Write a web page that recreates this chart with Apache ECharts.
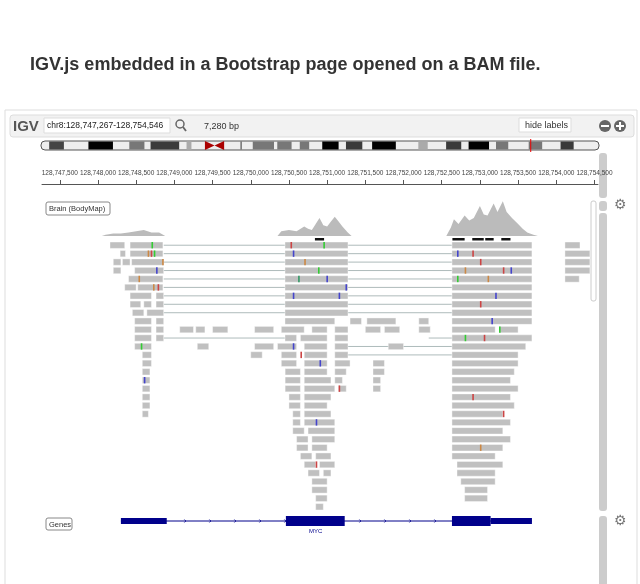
<!DOCTYPE html>
<html><head><meta charset="utf-8">
<script src="https://cdn.jsdelivr.net/npm/echarts@6/dist/echarts.min.js"></script>
<style>html,body{margin:0;background:#fff}#c{width:640px;height:584px}</style></head>
<body><div id="c"></div>
<script>
const BASE = 128747000;
const regionStart = 128747267, regionEnd = 128754546;
const rulerTicks = [128747500,128748000,128748500,128749000,128749500,128750000,128750500,128751000,128751500,128752000,128752500,128753000,128753500,128754000,128754500];
const ideoBands = [[122,158,'#444'],[218,278,'#000'],[318,355,'#777'],[370,440,'#3a3a3a'],[458,470,'#aaa'],[590,593,'#555'],[620,672,'#777'],[680,715,'#777'],[735,758,'#777'],[790,830,'#000'],[848,888,'#3a3a3a'],[912,970,'#000'],[1025,1048,'#aaa'],[1093,1130,'#3a3a3a'],[1148,1198,'#000'],[1215,1245,'#777'],[1295,1328,'#777'],[1373,1405,'#3a3a3a']];
const coverage = [[267,0],[1050,0],[1100,1],[1200,2],[1300,2],[1400,3],[1500,4],[1600,5],[1700,3],[1800,3],[1880,0],[3350,0],[3400,4],[3500,5],[3600,4],[3700,8],[3750,6],[3800,5],[3850,10],[3900,15],[3950,9],[4000,8],[4050,12],[4100,16],[4150,12],[4200,8],[4270,3],[4320,0],[5560,0],[5620,7],[5660,14],[5720,10],[5800,17],[5860,13],[5920,15],[6000,25],[6050,18],[6100,17],[6180,27],[6230,20],[6300,29],[6350,20],[6420,15],[6500,10],[6560,6],[6620,3],[6700,1],[6760,0],[7400,0]];
const reads = [
[1157,1350,0],[1420,1850,0],[3448,4273,0],[5634,6681,0],[7113,7310,0],
[1290,1360,1],[1420,1850,1],[3448,4273,1],[5634,6681,1],[7113,7440,1],
[1200,1300,2],[1320,1420,2],[1440,1860,2],[3448,4273,2],[5634,6681,2],[7113,7440,2],
[1200,1300,3],[1480,1860,3],[3448,4273,3],[5634,6681,3],[7113,7440,3],
[1400,1850,4],[3448,4273,4],[5634,6681,4],[7113,7300,4],
[1350,1500,5],[1520,1850,5],[3448,4273,5],[5634,6681,5],
[1420,1700,6],[1760,1860,6],[3448,4273,6],[5634,6681,6],
[1420,1560,7],[1600,1700,7],[1760,1860,7],[3448,4273,7],[5634,6681,7],
[1450,1600,8],[1640,1860,8],[3448,4273,8],[5634,6681,8],
[1480,1700,9],[1760,1860,9],[3448,4100,9],[4300,4450,9],[4520,4900,9],[5200,5330,9],[5634,6681,9],
[1480,1700,10],[1760,1860,10],[2070,2250,10],[2280,2400,10],[2500,2700,10],[3050,3300,10],[3400,3700,10],[3800,4000,10],[4100,4273,10],[4500,4700,10],[4750,4950,10],[5200,5350,10],[5634,6200,10],[6250,6500,10],
[1480,1700,11],[1760,1860,11],[3448,3600,11],[3650,4000,11],[4100,4273,11],[5634,6681,11],
[1480,1700,12],[2300,2450,12],[3050,3300,12],[3350,3600,12],[3700,4000,12],[4100,4273,12],[4800,5000,12],[5634,6600,12],
[1580,1700,13],[3000,3150,13],[3400,3600,13],[3700,4000,13],[4100,4273,13],[5634,6500,13],
[1580,1700,14],[3400,3600,14],[3700,4000,14],[4100,4300,14],[4600,4750,14],[5634,6500,14],
[1580,1680,15],[3450,3650,15],[3700,4000,15],[4100,4250,15],[4600,4750,15],[5634,6450,15],
[1580,1680,16],[3450,3650,16],[3700,4050,16],[4100,4200,16],[4600,4700,16],[5634,6400,16],
[1580,1680,17],[3450,3650,17],[3700,4100,17],[4150,4250,17],[4600,4700,17],[5634,6500,17],
[1580,1680,18],[3500,3650,18],[3700,4050,18],[5634,6400,18],
[1580,1680,19],[3500,3650,19],[3700,4000,19],[5634,6450,19],
[1580,1660,20],[3550,3650,20],[3700,4050,20],[5634,6300,20],
[3550,3650,21],[3700,4100,21],[5634,6400,21],
[3550,3700,22],[3750,4100,22],[5634,6300,22],
[3600,3750,23],[3800,4100,23],[5634,6400,23],
[3600,3750,24],[3800,4000,24],[5634,6300,24],
[3650,3800,25],[3850,4050,25],[5634,6200,25],
[3700,3850,26],[3900,4100,26],[5700,6300,26],
[3750,3900,27],[3950,4050,27],[5700,6200,27],
[3800,4000,28],[5750,6200,28],
[3800,4000,29],[5800,6100,29],
[3850,4000,30],[5800,6100,30],
[3850,3950,31]
];
const junctions = [[1860,3448,0],[4273,5634,0],[1860,3448,1],[4273,5634,1],[1860,3448,2],[4273,5634,2],[1860,3448,3],[4273,5634,3],[1860,3448,4],[4273,5634,4],[1860,3448,5],[4273,5634,5],[1860,3448,6],[4273,5634,6],[1860,3448,7],[4273,5634,7],[1860,3448,8],[4273,5634,8],[1860,3448,11],[4273,5634,12],[5330,5634,11],[4273,5634,13]];
const mismatches = [[1700,0,'#3c3'],[1650,1,'#c84'],[1690,1,'#c44'],[1730,1,'#3c3'],[1840,2,'#c84'],[1760,3,'#44c'],[1530,4,'#c84'],[1720,5,'#c84'],[1780,5,'#c44'],[3520,0,'#c44'],[3950,0,'#3c3'],[3550,1,'#44c'],[3700,2,'#c84'],[3880,3,'#3c3'],[3620,4,'#396'],[3990,4,'#44c'],[4240,5,'#44c'],[3550,6,'#44c'],[4150,6,'#44c'],[5700,1,'#44c'],[5900,1,'#c44'],[6000,2,'#c44'],[5800,3,'#c84'],[6300,3,'#c44'],[6400,3,'#44c'],[5700,4,'#3c3'],[6100,4,'#c84'],[6200,6,'#44c'],[6000,7,'#c44'],[6150,9,'#44c'],[6250,10,'#3c3'],[5800,11,'#3c3'],[6050,11,'#c44'],[1560,12,'#3c3'],[3550,12,'#44c'],[3650,13,'#c44'],[3900,14,'#44c'],[1600,16,'#44c'],[4150,17,'#c44'],[5900,18,'#c44'],[6300,20,'#c44'],[3850,21,'#44c'],[6000,24,'#c84'],[3850,26,'#c44']];
const geneLine = [[1300,6681]];
const geneExons = [[1300,1900,6],[3460,4230,10],[5634,6140,10],[6140,6681,6]];
const peakMarks = [[3840,3960],[5640,5800],[5900,6050],[6070,6180],[6280,6400]];

const G = v => BASE + v;
const F = '"Liberation Sans",sans-serif';
const toolbar = [
 {type:'rect',shape:{x:5,y:110,width:632,height:480},style:{fill:'#fff',stroke:'#ddd'}},
 {type:'rect',shape:{x:10,y:115,width:624,height:22,r:3},style:{fill:'#f2f2f2',stroke:'#ddd'}},
 {type:'text',x:13,y:119,style:{text:'IGV',font:'bold 15px '+F,fill:'#555'}},
 {type:'rect',shape:{x:44,y:118,width:126,height:15},style:{fill:'#fff',stroke:'#ddd'}},
 {type:'text',x:47,y:121,style:{text:'chr8:128,747,267-128,754,546',font:'8.5px '+F,fill:'#222'}},
 {type:'circle',shape:{cx:180,cy:124,r:4},style:{fill:'none',stroke:'#666',lineWidth:1.5}},
 {type:'line',shape:{x1:183,y1:127,x2:186,y2:131},style:{stroke:'#666',lineWidth:1.8}},
 {type:'text',x:204,y:122,style:{text:'7,280 bp',font:'9px '+F,fill:'#333'}},
 {type:'rect',shape:{x:519,y:118,width:52,height:14},style:{fill:'#fff',stroke:'#ddd'}},
 {type:'text',x:525,y:121,style:{text:'hide labels',font:'9px '+F,fill:'#333'}},
 {type:'circle',shape:{cx:605,cy:126,r:6},style:{fill:'#666'}},
 {type:'rect',shape:{x:601,y:125,width:8,height:2},style:{fill:'#fff'}},
 {type:'circle',shape:{cx:620,cy:126,r:6},style:{fill:'#666'}},
 {type:'rect',shape:{x:616,y:125,width:8,height:2},style:{fill:'#fff'}},
 {type:'rect',shape:{x:619,y:122,width:2,height:8},style:{fill:'#fff'}},
 {type:'rect',shape:{x:41,y:141,width:558,height:9,r:4},style:{fill:'#eee',stroke:'#555'}},
 {type:'rect',shape:{x:599,y:153,width:8,height:45,r:3},style:{fill:'#ccc'}},
 {type:'rect',shape:{x:599,y:201,width:8,height:10,r:3},style:{fill:'#ccc'}},
 {type:'rect',shape:{x:599,y:213,width:8,height:298,r:3},style:{fill:'#ccc'}},
 {type:'rect',shape:{x:591,y:201,width:5,height:100,r:2},style:{fill:'#fff',stroke:'#ccc'}},
 {type:'rect',shape:{x:599,y:516,width:8,height:70,r:3},style:{fill:'#ccc'}},
 {type:'rect',shape:{x:46,y:202,width:64,height:13,r:2},style:{fill:'#fff',stroke:'#888'}},
 {type:'text',x:49,y:205,style:{text:'Brain (BodyMap)',font:'7.5px '+F,fill:'#333'}},
 {type:'rect',shape:{x:46,y:518,width:26,height:12,r:2},style:{fill:'#fff',stroke:'#888'}},
 {type:'text',x:49,y:520.5,style:{text:'Genes',font:'7.5px '+F,fill:'#333'}},
 {type:'text',x:614,y:198,style:{text:'⚙',font:'14px "DejaVu Sans"',fill:'#777'}},
 {type:'text',x:614,y:514,style:{text:'⚙',font:'14px "DejaVu Sans"',fill:'#777'}}
];
const chart = echarts.init(document.getElementById('c'));
const xBase = {type:'value',min:regionStart,max:regionEnd,show:false};
chart.setOption({
 animation:false,
 title:{text:'IGV.js embedded in a Bootstrap page opened on a BAM file.',left:25,top:51,textStyle:{fontSize:18,fontWeight:'bold',color:'#333',fontFamily:F}},
 graphic:toolbar,
 grid:[
  {left:41,width:558,top:141,height:9},
  {left:42,width:556,top:200,height:36},
  {left:42,width:556,top:241,height:270},
  {left:42,width:556,top:516,height:20},
  {left:42,width:556,top:160,height:24}
 ],
 xAxis:[
  {gridIndex:0,type:'value',min:102,max:1467,show:false},
  Object.assign({gridIndex:1},xBase),
  Object.assign({gridIndex:2},xBase),
  Object.assign({gridIndex:3},xBase),
  {gridIndex:4,type:'value',min:regionStart,max:regionEnd,position:'bottom',
   axisLine:{show:true,onZero:false,lineStyle:{color:'#555'}},splitLine:{show:false},
   axisTick:{show:true,inside:true,length:4,customValues:rulerTicks,lineStyle:{color:'#555'}},
   axisLabel:{inside:true,customValues:rulerTicks,fontSize:6.5,color:'#444',margin:7,fontFamily:F,formatter:v=>v.toLocaleString('en-US')}}
 ],
 yAxis:[
  {gridIndex:0,type:'value',min:0,max:1,show:false},
  {gridIndex:1,type:'value',min:0,max:30,show:false},
  {gridIndex:2,type:'value',min:-0.5,max:31.5,inverse:true,show:false},
  {gridIndex:3,type:'value',min:0,max:2,inverse:true,show:false},
  {gridIndex:4,type:'value',min:0,max:1,show:false}
 ],
 series:[
  {type:'custom',xAxisIndex:0,yAxisIndex:0,data:ideoBands,renderItem:(p,api)=>{
    const a=api.coord([api.value(0),1]),b=api.coord([api.value(1),0]);
    return {type:'rect',shape:{x:a[0],y:a[1]+0.5,width:b[0]-a[0],height:b[1]-a[1]-1},style:{fill:ideoBands[p.dataIndex][2]}};}},
  {type:'custom',xAxisIndex:0,yAxisIndex:0,data:[[503,550]],renderItem:(p,api)=>{
    const a=api.coord([api.value(0),1]),b=api.coord([api.value(1),0]),m=(a[0]+b[0])/2;
    return {type:'polygon',shape:{points:[[a[0],a[1]],[m,(a[1]+b[1])/2],[b[0],a[1]],[b[0],b[1]],[m,(a[1]+b[1])/2],[a[0],b[1]]]},style:{fill:'#a00'}};}},
  {type:'custom',xAxisIndex:0,yAxisIndex:0,data:[[1300]],renderItem:(p,api)=>{
    const a=api.coord([api.value(0),1]),b=api.coord([api.value(0),0]);
    return {type:'line',shape:{x1:a[0],y1:a[1]-2,x2:b[0],y2:b[1]+2},style:{stroke:'#e00',lineWidth:1}};}},
  {type:'line',xAxisIndex:1,yAxisIndex:1,data:coverage.map(d=>[G(d[0]),d[1]]),symbol:'none',lineStyle:{width:0},areaStyle:{color:'#bbb',opacity:1}},
  {type:'custom',xAxisIndex:1,yAxisIndex:1,data:peakMarks.map(d=>[G(d[0]),G(d[1])]),renderItem:(p,api)=>{
    const a=api.coord([api.value(0),0]),b=api.coord([api.value(1),0]);
    return {type:'rect',shape:{x:a[0],y:a[1]+2,width:b[0]-a[0],height:2.5},style:{fill:'#111'}};}},
  {type:'custom',xAxisIndex:2,yAxisIndex:2,data:junctions.map(d=>[G(d[0]),G(d[1]),d[2]]),renderItem:(p,api)=>{
    const a=api.coord([api.value(0),api.value(2)]),b=api.coord([api.value(1),api.value(2)]);
    return {type:'line',shape:{x1:a[0],y1:a[1],x2:b[0],y2:b[1]},style:{stroke:'#9aa',lineWidth:0.8}};}},
  {type:'custom',xAxisIndex:2,yAxisIndex:2,data:reads.map(d=>[G(d[0]),G(d[1]),d[2]]),renderItem:(p,api)=>{
    const a=api.coord([api.value(0),api.value(2)]),b=api.coord([api.value(1),api.value(2)]);
    const h=6.4,y=a[1]-h/2,w=Math.max(b[0]-a[0],3);
    return {type:'rect',shape:{x:a[0],y:y,width:w,height:h},style:{fill:'#c0c0c0',stroke:'#fff',lineWidth:0.4}};}},
  {type:'custom',xAxisIndex:2,yAxisIndex:2,data:mismatches.map(d=>[G(d[0]),d[1]]),renderItem:(p,api)=>{
    const a=api.coord([api.value(0),api.value(1)]);
    return {type:'rect',shape:{x:a[0],y:a[1]-3.2,width:1.6,height:6.4},style:{fill:mismatches[p.dataIndex][2]}};}},
  {type:'custom',xAxisIndex:3,yAxisIndex:3,data:geneLine.map(d=>[G(d[0]),G(d[1])]),renderItem:(p,api)=>{
    const a=api.coord([api.value(0),0.5]),b=api.coord([api.value(1),0.5]);
    const kids=[{type:'line',shape:{x1:a[0],y1:a[1],x2:b[0],y2:b[1]},style:{stroke:'#00008b',lineWidth:1}}];
    for(let x=a[0]+15;x<b[0];x+=25)kids.push({type:'polyline',shape:{points:[[x-1.5,a[1]-1.5],[x,a[1]],[x-1.5,a[1]+1.5]]},style:{stroke:'#00008b',fill:'none',lineWidth:0.8}});
    return {type:'group',children:kids};}},
  {type:'custom',xAxisIndex:3,yAxisIndex:3,data:geneExons.map(d=>[G(d[0]),G(d[1]),d[2]]),renderItem:(p,api)=>{
    const a=api.coord([api.value(0),0.5]),b=api.coord([api.value(1),0.5]),h=api.value(2);
    return {type:'rect',shape:{x:a[0],y:a[1]-h/2,width:b[0]-a[0],height:h},style:{fill:'#00008b'}};}},
  {type:'custom',xAxisIndex:3,yAxisIndex:3,data:[[G(3850),1.55]],renderItem:(p,api)=>{
    const a=api.coord([api.value(0),api.value(1)]);
    return {type:'text',x:a[0],y:a[1],style:{text:'MYC',fill:'#00008b',font:'6px '+F,align:'center',verticalAlign:'middle'}};}}
 ]
});
</script></body></html>
